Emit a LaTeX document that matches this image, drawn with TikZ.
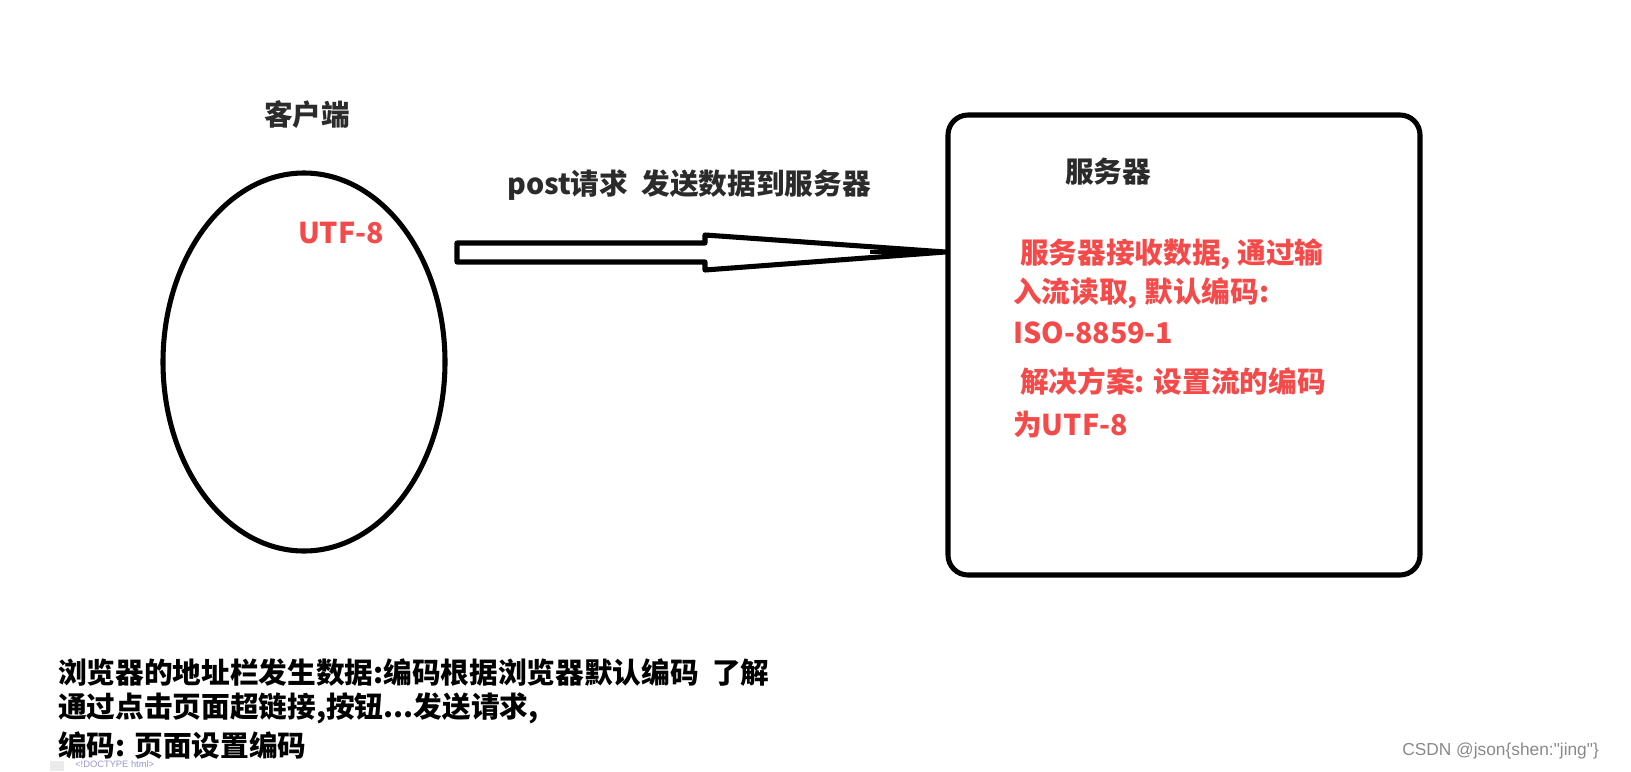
\documentclass[tikz,border=0pt]{standalone}
\usepackage{fontspec}
\usetikzlibrary{shapes.geometric}
\newfontfamily\cjk{Noto Sans CJK SC}
\newfontfamily\wm{Liberation Sans}
\definecolor{redtxt}{HTML}{F54A4A}
\definecolor{darktxt}{HTML}{2B2B2B}
\definecolor{wmgray}{HTML}{8A8A8A}
\tikzset{
  lbl/.style={inner sep=0pt, font=\cjk\bfseries\fontsize{21.5}{25}\selectfont, text=darktxt},
  redlbl/.style={lbl, text=redtxt},
  shapeline/.style={draw=black, line width=3.8pt},
}
\begin{document}
\begin{tikzpicture}[x=0.75pt,y=-0.75pt]
\useasboundingbox[fill=white] (0,0) rectangle (1631,771);
% client
\node[shapeline, ellipse, minimum width=211.5pt, minimum height=283.5pt, inner sep=0pt] (client) at (304,362) {};
\node[lbl] (clientlbl) at (307,115) {客户端};
\node[redlbl] (utf) at (341,233) {UTF-8};
% server
\node[shapeline, rectangle, rounded corners=15pt, minimum width=354pt, minimum height=345pt, inner sep=0pt] (server) at (1184,345) {};
\node[lbl] (serverlbl) at (1108,172) {服务器};
\node[redlbl, anchor=west] (r1) at (1020,254) {服务器接收数据, 通过输};
\node[redlbl, anchor=west] (r2) at (1013,293) {入流读取, 默认编码:};
\node[redlbl, anchor=west] (r3) at (1013,333) {ISO-8859-1};
\node[redlbl, anchor=west] (r4) at (1020,381) {解决方案: 设置流的编码};
\node[redlbl, anchor=west] (r5) at (1013,425) {为UTF-8};
% arrow
\node[lbl, anchor=west] (post) at (507,185) {post请求\ \ 发送数据到服务器};
\coordinate (tip) at (server.west |- 0,252);
\draw[line width=3.8pt, line join=round, fill=white]
  (457,243) -- (705,243) -- (705,235) -- (tip) -- (705,270) -- (705,262) -- (457,262) -- cycle;
\draw[line width=2.5pt] (870,252) -- (tip);
% bottom notes
\node[lbl, anchor=west, text=black] (n1) at (58,673) {浏览器的地址栏发生数据:编码根据浏览器默认编码\ \ 了解};
\node[lbl, anchor=west, text=black] (n2) at (58,708) {通过点击页面超链接,按钮...发送请求,};
\node[lbl, anchor=west, text=black] (n3) at (58,745) {编码: 页面设置编码};
\node[fill=black!8, minimum width=10pt, minimum height=8pt, inner sep=0pt] (gbox) at (57,766) {};
\node[inner sep=0pt, anchor=west, font=\wm\fontsize{7}{8}\selectfont, text=blue!35!gray!60] (doct) at (75,764) {<!DOCTYPE html>};
% watermark
\node[inner sep=0pt, anchor=west, font=\wm\fontsize{13}{15}\selectfont, text=wmgray] (csdn) at (1402,751) {CSDN @json\{shen:"jing"\}};
\end{tikzpicture}
\end{document}
